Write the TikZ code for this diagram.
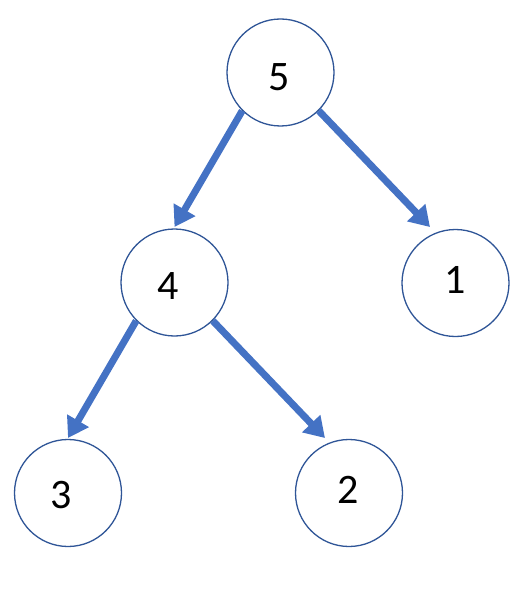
\documentclass[tikz,border=0pt]{standalone}
\usepackage{fontspec}
\setmainfont{Carlito}
\usetikzlibrary{arrows.meta,calc}
\definecolor{ringblue}{HTML}{2F5597}
\definecolor{arrowblue}{HTML}{4472C4}
\tikzset{
  treenode/.style={circle, draw=ringblue, line width=1.3pt, fill=white,
    minimum size=107pt, inner sep=0pt},
  every label/.style={font=\fontsize{42}{42}\selectfont, text=black, inner sep=0pt},
  edge/.style={draw=arrowblue, line width=7pt,
    -{Triangle[length=20pt,width=24pt]}}
}
\begin{document}
\begin{tikzpicture}[x=1pt,y=1pt]
\useasboundingbox (0,0) rectangle (522,-596);
\node[treenode, label={[xshift=-1pt,yshift=-4.5pt]center:5}] (n5) at (280.5,-72.5) {};
\node[treenode, label={[xshift=-6pt,yshift=-3.5pt]center:4}] (n4) at (174.5,-282.5) {};
\node[treenode, label={[xshift=-0.5pt,yshift=3pt]center:1}] (n1) at (455.5,-283) {};
\node[treenode, label={[xshift=-6.5pt,yshift=-2.5pt]center:3}] (n3) at (68,-493) {};
\node[treenode, label={[xshift=-1pt,yshift=3pt]center:2}] (n2) at (349,-493) {};
\draw[edge] (n5.225) -- ($(n4.center)+(90:55.5pt)$);
\draw[edge] (n5.315) -- ($(n1.center)+(114.5:61.5pt)$);
\draw[edge] (n4.225) -- ($(n3.center)+(90:55pt)$);
\draw[edge] (n4.315) -- ($(n2.center)+(113.6:60pt)$);
\end{tikzpicture}
\end{document}
